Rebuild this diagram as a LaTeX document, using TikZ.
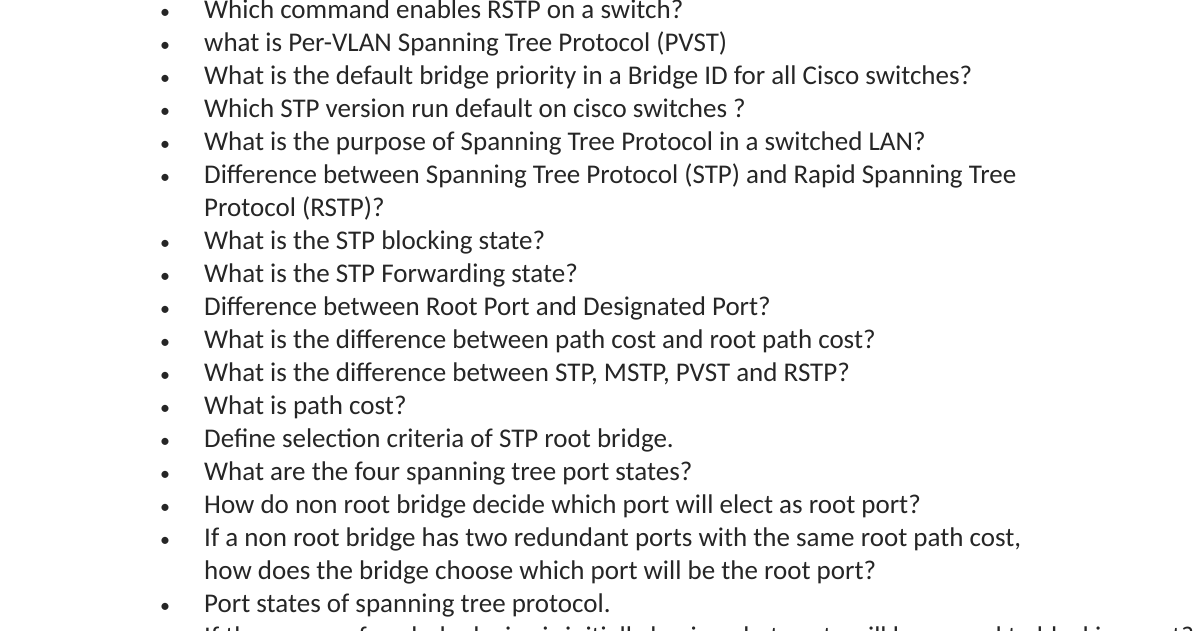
\documentclass[tikz,border=0pt]{standalone}
\usepackage{fontspec}
\setmainfont{Carlito}
\begin{document}
\begin{tikzpicture}[x=1pt,y=-1pt,
  item/.style={anchor=base west,inner sep=0pt,font=\fontsize{27}{30}\selectfont,text=black!85},
  bul/.style={anchor=base,inner sep=0pt,font=\fontsize{20}{24}\selectfont,text=black!85}]
\useasboundingbox[fill=white] (0,0) rectangle (1200,630);
\begin{scope}
\clip (0,0) rectangle (1200,630);
\foreach \t/\b [count=\i from 0] in {
 {Which command enables RSTP on a switch?}/1,
 {what is Per-VLAN Spanning Tree Protocol (PVST)}/1,
 {What is the default bridge priority in a Bridge ID for all Cisco switches?}/1,
 {Which STP version run default on cisco switches ?}/1,
 {What is the purpose of Spanning Tree Protocol in a switched LAN?}/1,
 {Difference between Spanning Tree Protocol (STP) and Rapid Spanning Tree}/1,
 {Protocol (RSTP)?}/0,
 {What is the STP blocking state?}/1,
 {What is the STP Forwarding state?}/1,
 {Difference between Root Port and Designated Port?}/1,
 {What is the difference between path cost and root path cost?}/1,
 {What is the difference between STP, MSTP, PVST and RSTP?}/1,
 {What is path cost?}/1,
 {Define selection criteria of STP root bridge.}/1,
 {What are the four spanning tree port states?}/1,
 {How do non root bridge decide which port will elect as root port?}/1,
 {If a non root bridge has two redundant ports with the same root path cost,}/1,
 {how does the bridge choose which port will be the root port?}/0,
 {Port states of spanning tree protocol.}/1,
 {If the power of a whole device is initially begin, what ports will be moved to blocking port?}/1} {
  \node[item] (t\i) at (204,{18+33*\i}) {\t};
  \ifnum\b=1 \node[bul] (b\i) at (165,{18+33*\i}) {•};\fi
}
\end{scope}
\end{tikzpicture}
\end{document}
